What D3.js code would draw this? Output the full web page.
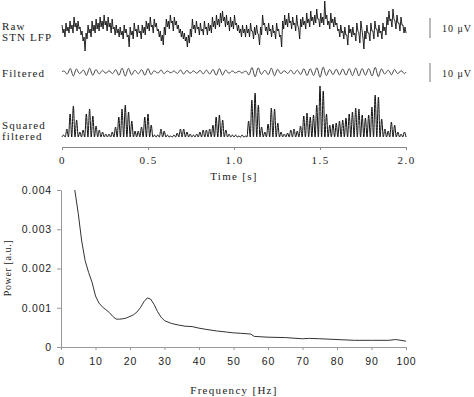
<!DOCTYPE html>
<html>
<head>
<meta charset="utf-8">
<script src="https://cdn.jsdelivr.net/npm/d3@7"></script>
<style>
	body { margin: 0; background: #fff; }
	svg { display: block; }
	.serif { font-family: "Liberation Serif", "Times New Roman", serif; fill: #222; }
	.sans { font-family: "Liberation Sans", Arial, sans-serif; fill: #222; }
</style>
</head>
<body>
<main></main>
<script>

	// 1. Data

	// raw STN LFP, µV, 344 samples over 2 s
	const rawLfp = [
		3, -1, 1, -3, 4, 0, 2, -1, 5, 1, 3, -1, 7, 2, 4, 0, 5, 1, 2, -2,
		0, -5, -3, -10, -1, -4, 3, -1, 1, -3, 5, 0, 3, -1, 6, 1, 4, 0, 7, 2,
		5, 1, 8, 3, 5, 0, 7, 2, 4, -1, 6, 1, 2, -2, 3, -1, 1, -3, 2, -2,
		0, -4, 3, -1, 1, -3, -2, -8, 2, -2, 0, -4, 4, 0, 1, -3, 3, -1, 0, -4,
		3, -1, 2, -2, 5, 1, 4, 0, 7, 2, 3, -1, 6, 2, 4, 0, 1, -3, 0, -5,
		-2, -7, 2, -2, 6, 2, 5, 1, 8, 4, 5, 0, 7, 3, 5, 1, 3, -1, 1, -3,
		0, -4, -1, -5, -3, -8, -2, -6, 1, -3, 6, 1, 3, -1, 5, 1, 2, -2, 4, 0,
		1, -2, 5, 1, 2, -2, 4, 0, 3, -1, 7, 2, 5, 1, 8, 3, 6, 2, 9, 4,
		10, 5, 7, 2, 8, 3, 5, 0, 7, 2, 5, 1, 8, 3, 4, 0, 3, -1, 1, -3,
		3, -1, 1, -3, 3, -1, 1, -3, 4, 0, 0, -4, 2, -2, 3, -1, -2, -7, 2, -2,
		8, 3, 4, 0, 2, -2, 4, 0, 1, -3, 3, -1, 0, -4, 4, 0, 1, -3, -2, -8,
		5, 1, 8, 3, 6, 2, 9, 4, 5, 1, 7, 3, 4, 0, 8, 3, 1, -4, 6, 2,
		7, 3, 5, 1, 9, 4, 6, 2, 10, 5, 7, 3, 8, 4, 11, 6, 6, 2, 9, 4,
		7, 3, 15, 6, 8, 3, 5, 1, 9, 4, 6, 2, 7, 3, 4, 0, 1, -3, 3, -1,
		0, -4, 2, -2, -2, -7, 3, -1, 1, -3, 2, -2, -1, -5, 4, 0, -1, -6, 5, 1,
		-3, -9, 0, -4, 3, -1, -1, -5, 4, 0, 0, -4, 5, 1, 1, -3, 3, -1, 0, -4,
		4, 0, 2, -2, 7, 3, 10, 5, 6, 2, 11, 6, 5, 1, 8, 4, 4, 0, 7, 3,
		3, -1, 2, -1
	];

	// peak heights of the squared filtered signal (a.u.), one per half cycle
	const squaredPeaks = [
		2, 8, 23, 31, 17, 5, 7, 23, 28, 21,
		11, 7, 5, 3, 3, 5, 10, 20, 28, 32,
		25, 16, 6, 6, 10, 20, 23, 12, 2, 2,
		8, 6, 2, 1, 2, 4, 8, 8, 5, 3,
		2, 3, 5, 7, 7, 8, 12, 20, 22, 17,
		7, 3,
		2, 2, 1, 2, 1, 16, 37, 44, 32, 10,
		5, 13, 29, 28, 14, 5, 3, 4, 7, 8,
		6, 11, 21, 24, 20, 22, 32, 51, 46, 23,
		12, 13, 14, 16, 17, 19, 23, 25, 29, 28,
		22, 19, 22, 30, 42, 40, 18, 8, 6, 15,
		12, 5, 3, 5
	];

	const timeTicks = [0, 0.5, 1, 1.5, 2];

	// power spectrum
	const freqs = [4, 5, 6, 7, 8, 9, 10, 11, 12, 13, 14, 15, 16, 17, 18, 19, 20, 21, 22, 23,
		24, 25, 26, 27, 28, 29, 30, 32, 34, 36, 38, 40, 42, 45, 48, 50, 52, 55, 56, 58,
		60, 65, 70, 72, 75, 80, 85, 90, 95, 97, 100];
	const power = [0.0040, 0.0034, 0.0027, 0.0022, 0.0019, 0.00165, 0.0013, 0.00112, 0.00102, 0.00095,
		0.00088, 0.00078, 0.00071, 0.00071, 0.00072, 0.00074, 0.00078, 0.00082, 0.00089, 0.00100,
		0.00115, 0.00125, 0.00122, 0.00108, 0.00090, 0.00076, 0.00067, 0.00060, 0.00056, 0.00053,
		0.00052, 0.00048, 0.00045, 0.00041, 0.00038, 0.00036, 0.00035, 0.00033, 0.00027, 0.00026,
		0.00025, 0.00024, 0.00021, 0.00022, 0.00021, 0.00019, 0.00017, 0.00017, 0.00017, 0.00019,
		0.00015];
	const powerTicks = [0, 0.001, 0.002, 0.003, 0.004];
	const freqTicks = [0, 10, 20, 30, 40, 50, 60, 70, 80, 90, 100];

	// 2. Dimensions

	const width = 474;
	const height = 397;

	const canvas = d3.select("main")
		.append("svg")
		.attr("width", width)
		.attr("height", height);

	// 3. Scales

	const tScale = d3.scaleLinear().domain([0, 2]).range([62, 406]);
	const rawY = d3.scaleLinear().domain([-10, 10]).range([51, 11]);   // 2 px per µV
	const filtY = d3.scaleLinear().domain([-7.2, 7.2]).range([77.2, 66.8]);
	const sqY = d3.scaleLinear().domain([0, 51]).range([137, 86]);

	const fScale = d3.scaleLinear().domain([0, 100]).range([61, 406]);
	const pScale = d3.scaleLinear().domain([0, 0.004]).range([347, 190]);

	// 4. Build series

	const rawPts = rawLfp.map((v, i) => [i * 2 / (rawLfp.length - 1), v]);

	const n = squaredPeaks.length;
	const sqPts = [[0, 0]];
	const filtPts = [[0, 0]];
	squaredPeaks.forEach((p, k) => {
		const tp = (k + 0.5) * 2 / n;
		const tz = (k + 1) * 2 / n;
		sqPts.push([tp, p], [tz, 0]);
		filtPts.push([tp, (k % 2 ? -1 : 1) * Math.sqrt(p)], [tz, 0]);
	});

	// 5. Top panel traces

	canvas.append("path")
		.attr("d", d3.line().x(d => tScale(d[0])).y(d => rawY(d[1]))(rawPts))
		.attr("fill", "none")
		.attr("stroke", "#111")
		.attr("stroke-width", 0.9);

	canvas.append("path")
		.attr("d", d3.line().curve(d3.curveNatural).x(d => tScale(d[0])).y(d => filtY(d[1]))(filtPts))
		.attr("fill", "none")
		.attr("stroke", "#444")
		.attr("stroke-width", 1);

	canvas.append("path")
		.attr("d", d3.line().curve(d3.curveMonotoneX).x(d => tScale(d[0])).y(d => sqY(d[1]))(sqPts))
		.attr("fill", "none")
		.attr("stroke", "#111")
		.attr("stroke-width", 1);

	// labels on the left
	const leftLabels = [
		{ text: "Raw", y: 30 },
		{ text: "STN LFP", y: 41 },
		{ text: "Filtered", y: 77 },
		{ text: "Squared", y: 129 },
		{ text: "filtered", y: 140 },
	];
	canvas.selectAll(".lbl")
		.data(leftLabels)
		.enter()
		.append("text")
		.attr("class", "serif lbl")
		.attr("x", 2)
		.attr("y", d => d.y)
		.attr("font-size", 11)
		.attr("letter-spacing", 1.1)
		.text(d => d.text);

	// scale bars, 10 µV each
	const bars = [
		{ y0: 18, y1: 38 },
		{ y0: 63, y1: 82 },
	];
	bars.forEach(b => {
		canvas.append("line")
			.attr("x1", 430).attr("x2", 430)
			.attr("y1", b.y0).attr("y2", b.y1)
			.attr("stroke", "#777")
			.attr("stroke-width", 1);
		canvas.append("text")
			.attr("class", "serif")
			.attr("x", 442)
			.attr("y", (b.y0 + b.y1) / 2 + 4)
			.attr("font-size", 10)
			.attr("letter-spacing", 1)
			.text("10 \u03bcV");
	});

	// time axis
	const tAxis = canvas.append("g")
		.attr("transform", "translate(0,147)")
		.call(d3.axisBottom(tScale)
			.tickValues(timeTicks)
			.tickSize(3)
			.tickSizeOuter(0)
			.tickPadding(6)
			.tickFormat(d => d === 0 ? "0" : d.toFixed(1)));
	tAxis.select(".domain").attr("stroke", "#888");
	tAxis.selectAll(".tick line").attr("stroke", "#888");
	tAxis.selectAll("text")
		.attr("class", "serif")
		.attr("font-size", 11)
		.attr("letter-spacing", 1.5)
		.attr("fill", "#222");

	canvas.append("text")
		.attr("class", "serif")
		.attr("x", 234)
		.attr("y", 180)
		.attr("text-anchor", "middle")
		.attr("font-size", 11)
		.attr("letter-spacing", 1.3)
		.text("Time [s]");

	// 6. Bottom panel

	canvas.append("path")
		.attr("d", d3.line().x((d, i) => fScale(freqs[i])).y(d => pScale(d))(power))
		.attr("fill", "none")
		.attr("stroke", "#333")
		.attr("stroke-width", 1);

	const yAxis = canvas.append("g")
		.attr("transform", "translate(61,0)")
		.call(d3.axisLeft(pScale)
			.tickValues(powerTicks)
			.tickSize(4)
			.tickSizeOuter(0)
			.tickPadding(5)
			.tickFormat(d => d === 0 ? "0" : d.toFixed(3)));

	const xAxis = canvas.append("g")
		.attr("transform", "translate(0,347)")
		.call(d3.axisBottom(fScale)
			.tickValues(freqTicks)
			.tickSize(3)
			.tickSizeOuter(0)
			.tickPadding(8));

	[yAxis, xAxis].forEach(ax => {
		ax.select(".domain").attr("stroke", "#999");
		ax.selectAll(".tick line").attr("stroke", "#999");
		ax.selectAll("text")
			.attr("class", "sans")
			.attr("font-size", 10.5)
			.attr("letter-spacing", 0.8)
			.attr("fill", "#222");
	});

	canvas.append("text")
		.attr("class", "serif")
		.attr("transform", "translate(11,268) rotate(-90)")
		.attr("text-anchor", "middle")
		.attr("font-size", 10)
		.attr("letter-spacing", 0.6)
		.text("Power [a.u.]");

	canvas.append("text")
		.attr("class", "serif")
		.attr("x", 234)
		.attr("y", 394)
		.attr("text-anchor", "middle")
		.attr("font-size", 11)
		.attr("letter-spacing", 1.3)
		.text("Frequency [Hz]");

</script>
</body>
</html>
